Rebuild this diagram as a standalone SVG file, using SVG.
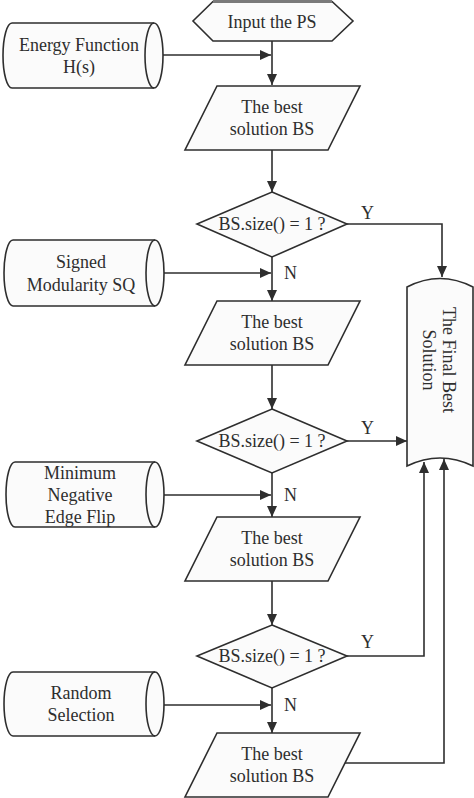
<svg xmlns="http://www.w3.org/2000/svg" width="474" height="798" viewBox="0 0 474 798">
<defs>
<style>
.shape{fill:#fbfbfb;stroke:#2e2e2e;stroke-width:1.6;stroke-linejoin:miter}
.line{fill:none;stroke:#2e2e2e;stroke-width:1.6}
.t{font-family:"Liberation Serif","Times New Roman",serif;font-size:18px;fill:#2e2e2e;text-anchor:middle}
.lbl{font-family:"Liberation Serif","Times New Roman",serif;font-size:18px;fill:#2e2e2e}
</style>
<marker id="arr" markerUnits="userSpaceOnUse" markerWidth="12" markerHeight="10" refX="11" refY="5" orient="auto">
<path d="M0,0 L11,5 L0,10 Z" fill="#2e2e2e"/>
</marker>
</defs>
<rect width="474" height="798" fill="#ffffff"/>

<g id="connectors">
<line class="line" x1="272" y1="41" x2="272" y2="85" marker-end="url(#arr)"/>
<line class="line" x1="163" y1="55" x2="271" y2="55" marker-end="url(#arr)"/>
<line class="line" x1="272" y1="150" x2="272" y2="192" marker-end="url(#arr)"/>
<polyline class="line" points="347,224 442,224 442,277" marker-end="url(#arr)"/>
<line class="line" x1="272" y1="257" x2="272" y2="301" marker-end="url(#arr)"/>
<line class="line" x1="163" y1="273" x2="271" y2="273" marker-end="url(#arr)"/>
<line class="line" x1="272" y1="365" x2="272" y2="409" marker-end="url(#arr)"/>
<line class="line" x1="347" y1="441" x2="407" y2="441" marker-end="url(#arr)"/>
<line class="line" x1="272" y1="473" x2="272" y2="517" marker-end="url(#arr)"/>
<line class="line" x1="163" y1="495" x2="271" y2="495" marker-end="url(#arr)"/>
<line class="line" x1="272" y1="581" x2="272" y2="625" marker-end="url(#arr)"/>
<polyline class="line" points="347,656 424,656 424,462" marker-end="url(#arr)"/>
<line class="line" x1="272" y1="688" x2="272" y2="733" marker-end="url(#arr)"/>
<line class="line" x1="163" y1="705" x2="271" y2="705" marker-end="url(#arr)"/>
<polyline class="line" points="345,763 444,763 444,459" marker-end="url(#arr)"/>
<text class="lbl" x="361" y="219">Y</text>
<text class="lbl" x="361" y="434">Y</text>
<text class="lbl" x="361" y="648">Y</text>
<text class="lbl" x="284" y="279">N</text>
<text class="lbl" x="284" y="501">N</text>
<text class="lbl" x="284" y="711">N</text>
</g>

<g id="input">
<polygon class="shape" points="213,1.5 332,1.5 353,21 332,41 213,41 193,21"/>
<rect x="213" y="0" width="119" height="3" fill="#7a7a7a"/>
<text class="t" x="272" y="28">Input the PS</text>
</g>

<g id="energy">
<path class="shape" d="M12,23 H154 A9,32.5 0 0 1 154,88 H12 A9,32.5 0 0 1 12,23 Z"/>
<path class="line" d="M154,23 A9,32.5 0 0 0 154,88"/>
<text class="t" x="79" y="51">Energy Function</text>
<text class="t" x="79" y="73">H(s)</text>
</g>

<g id="bs1">
<polygon class="shape" points="217,86 360,86 328,150 185,150"/>
<text class="t" x="272" y="113">The best</text>
<text class="t" x="272" y="135">solution BS</text>
</g>

<g id="d1">
<polygon class="shape" points="272,192 347,224 272,257 197,224"/>
<text class="t" x="272" y="230">BS.size() = 1 ?</text>
</g>

<g id="signed">
<path class="shape" d="M13,240 H155 A9,33 0 0 1 155,306 H13 A9,33 0 0 1 13,240 Z"/>
<path class="line" d="M155,240 A9,33 0 0 0 155,306"/>
<text class="t" x="81" y="268">Signed</text>
<text class="t" x="81" y="291">Modularity SQ</text>
</g>

<g id="bs2">
<polygon class="shape" points="217,301 360,301 328,365 185,365"/>
<text class="t" x="272" y="328">The best</text>
<text class="t" x="272" y="350">solution BS</text>
</g>

<g id="d2">
<polygon class="shape" points="272,409 347,441 272,473 197,441"/>
<text class="t" x="272" y="447">BS.size() = 1 ?</text>
</g>

<g id="mnef">
<path class="shape" d="M15,462 H155 A9,32.5 0 0 1 155,527 H15 A9,32.5 0 0 1 15,462 Z"/>
<path class="line" d="M155,462 A9,32.5 0 0 0 155,527"/>
<text class="t" x="80" y="479">Minimum</text>
<text class="t" x="80" y="501">Negative</text>
<text class="t" x="80" y="523">Edge Flip</text>
</g>

<g id="bs3">
<polygon class="shape" points="217,517 360,517 328,581 185,581"/>
<text class="t" x="272" y="544">The best</text>
<text class="t" x="272" y="566">solution BS</text>
</g>

<g id="d3">
<polygon class="shape" points="272,625 347,656 272,688 197,656"/>
<text class="t" x="272" y="662">BS.size() = 1 ?</text>
</g>

<g id="random">
<path class="shape" d="M13,672 H155 A9,32 0 0 1 155,736 H13 A9,32 0 0 1 13,672 Z"/>
<path class="line" d="M155,672 A9,32 0 0 0 155,736"/>
<text class="t" x="81" y="699">Random</text>
<text class="t" x="81" y="721">Selection</text>
</g>

<g id="bs4">
<polygon class="shape" points="217,733 360,733 328,797 185,797"/>
<text class="t" x="272" y="760">The best</text>
<text class="t" x="272" y="782">solution BS</text>
</g>

<g id="final">
<path class="shape" d="M407,287 Q440,270 473,287 V466 Q440,450 407,466 Z"/>
<text class="t" transform="translate(443,360) rotate(90)">The Final Best</text>
<text class="t" transform="translate(423,360) rotate(90)">Solution</text>
</g>
</svg>
